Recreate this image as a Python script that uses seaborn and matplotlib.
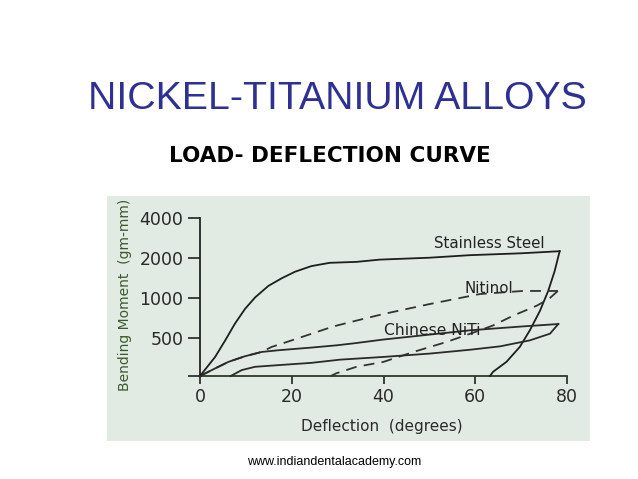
import numpy as np
import pandas as pd
import matplotlib
matplotlib.use("Agg")
import matplotlib.pyplot as plt
from matplotlib.patches import Rectangle
import seaborn as sns

# ---- data (deflection in degrees, bending moment in gm-mm) ----
steel_load_x = [0, 3.3, 5.5, 7.6, 9.8, 12.0, 14.9, 17.8, 20.7, 24.3, 28.3, 34.1, 39.2, 50, 58.8, 70, 78.4]
steel_load_y = [0, 251, 469, 640, 827, 1009, 1233, 1407, 1576, 1739, 1840, 1870, 1945, 2010, 2100, 2170, 2250]
steel_unload_x = [78.4, 77.3, 75.9, 74.1, 71.9, 69.7, 66.8, 63.9, 63.2]
steel_unload_y = [2250, 1590, 1130, 800, 571, 382, 186, 56, 0]

nitinol_load_x = [0, 3.3, 6.2, 9.8, 13.4, 15.6, 20, 24.3, 29, 34.1, 40, 50.1, 61, 70.4, 78]
nitinol_load_y = [0, 100, 186, 260, 316, 382, 469, 538, 610, 676, 758, 901, 1071, 1130, 1130]
nitinol_unload_x = [78, 76, 73.4, 68.3, 63.9, 61, 53.7, 46.5, 40, 34.1, 29.7, 28.5]
nitinol_unload_y = [1130, 980, 875, 737, 622, 571, 447, 316, 186, 121, 35, 0]

niti_load_x = [0, 3.3, 6.2, 9.8, 13.4, 17.1, 24.3, 30, 34.1, 40, 50, 58.8, 70, 78.1]
niti_load_y = [0, 100, 186, 260, 316, 339, 374, 405, 434, 480, 530, 571, 610, 637]
niti_unload_x = [78.1, 76.3, 71.9, 65.4, 58.8, 50.1, 40, 30.5, 24.3, 17.1, 12, 9.1, 6.7]
niti_unload_y = [637, 539, 469, 390, 345, 295, 251, 215, 173, 143, 121, 78, 0]

baseline_x = [0, 80]
baseline_y = [0, 0]

y_ticks = [0, 500, 1000, 2000, 4000]
y_ticklabels = ["", "500", "1000", "2000", "4000"]
x_ticks = [0, 20, 40, 60, 80]

# ---- custom bending-moment scale (linear to 500, then doubling per step) ----
P500 = 0.95

def fwd(y):
    y = np.asarray(y, dtype=float)
    with np.errstate(divide="ignore", invalid="ignore"):
        lg = P500 + np.log2(np.maximum(y, 1e-9) / 500.0)
    return np.where(y <= 500, y / 500.0 * P500, lg)

def inv(p):
    p = np.asarray(p, dtype=float)
    return np.where(p <= P500, p / P500 * 500.0, 500.0 * 2 ** (p - P500))

W, H = 638, 479
fig = plt.figure(figsize=(W / 100, H / 100), dpi=100)
fig.patch.set_facecolor("white")

# scanned panel background
panel = Rectangle((107 / W, 1 - 441 / H), (590 - 107) / W, (441 - 196) / H,
                  transform=fig.transFigure, facecolor="#e2eae4",
                  edgecolor="none", zorder=-5)
fig.patches.append(panel)

ax = fig.add_axes([200 / W, 1 - 376 / H, (567 - 200) / W, (376 - 218) / H])
ax.set_zorder(2)
ax.set_facecolor("none")
ax.set_yscale("function", functions=(fwd, inv))
ax.set_xlim(0, 80)
ax.set_ylim(0, 4000)

line_col = "#1e1e1e"
lw = 1.3

def seg(xs, ys, color=line_col, dashed=False):
    df = pd.DataFrame({"x": xs, "y": ys})
    sns.lineplot(data=df, x="x", y="y", sort=False, estimator=None,
                 color=color, lw=lw, ax=ax, clip_on=False)
    ln = ax.lines[-1]
    ln.set_solid_joinstyle("round")
    ln.set_dash_joinstyle("round")
    if dashed:
        ln.set_dashes([6, 4])

seg(baseline_x, baseline_y, color="#2d3a26")
seg(steel_load_x, steel_load_y)
seg(steel_unload_x, steel_unload_y)
seg(nitinol_load_x, nitinol_load_y, color="#333333", dashed=True)
seg(nitinol_unload_x, nitinol_unload_y, color="#333333", dashed=True)
seg(niti_load_x, niti_load_y, color="#2a2a2a")
seg(niti_unload_x, niti_unload_y, color="#2a2a2a")

for s in ["top", "right", "bottom"]:
    ax.spines[s].set_visible(False)
ax.spines["left"].set_color("#222222")
ax.spines["left"].set_linewidth(1.3)

ax.set_xticks(x_ticks)
ax.set_xticklabels([str(v) for v in x_ticks])
ax.set_yticks(y_ticks)
ax.set_yticklabels(y_ticklabels)
ax.yaxis.set_minor_locator(matplotlib.ticker.NullLocator())
ax.tick_params(axis="y", length=9, width=1.2, color="#222222", pad=3,
               labelsize=12.5, labelcolor="#2a2a2a")
ax.tick_params(axis="x", length=6, width=1.2, color="#222222", pad=3,
               labelsize=12.5, labelcolor="#2a2a2a")
ax.set_xlabel("")
ax.set_ylabel("")

# curve labels
ax.text(63, 2585, "Stainless Steel", ha="center", va="center", fontsize=10.8, color="#222222")
ax.text(63, 1189, "Nitinol", ha="center", va="center", fontsize=10.8, color="#222222")
ax.text(50.7, 571, "Chinese NiTi", ha="center", va="center", fontsize=11.2, color="#222222")

# axis titles (placed in figure pixels)
fig.text(125 / W, 1 - 295 / H, "Bending Moment  (gm-mm)", rotation=90, ha="center",
         va="center", fontsize=10, color="#3b5a2c")
fig.text(382 / W, 1 - 427 / H, "Deflection  (degrees)", ha="center", va="center",
         fontsize=11, color="#2a2a2a")

# slide texts
fig.text(88 / W, 1 - 99 / H, "NICKEL-TITANIUM ALLOYS", ha="left", va="center",
         fontsize=28.3, color="#2e3192", family="Liberation Sans")
fig.text(329.5 / W, 1 - 156 / H, "LOAD- DEFLECTION CURVE", ha="center", va="center",
         fontsize=15.5, color="black", fontweight="bold", family="DejaVu Sans")
fig.text(334 / W, 1 - 462 / H, "www.indiandentalacademy.com", ha="center", va="center",
         fontsize=9, color="black", family="Liberation Sans")

fig.savefig("out.png", dpi=100)
